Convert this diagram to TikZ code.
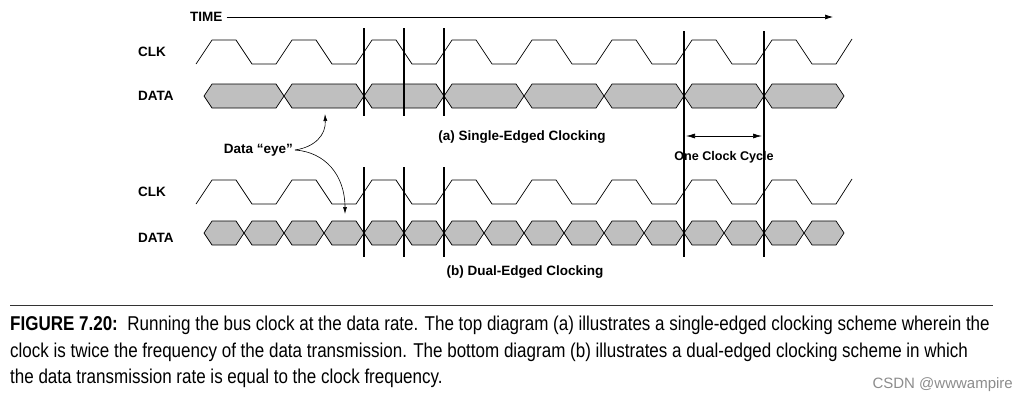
\documentclass[tikz,border=0pt]{standalone}
\usepackage{fontspec}
\setmainfont{Liberation Sans}
\newfontfamily\capfont[FakeStretch=0.85]{Liberation Sans}
\usetikzlibrary{arrows.meta}
\begin{document}
\begin{tikzpicture}[x=1pt,y=-1pt,
  lbl/.style={font=\bfseries\fontsize{13.5}{16}\selectfont,inner sep=0pt},
  wave/.style={line width=0.7pt},
  cell/.style={draw,fill=black!25,line width=0.7pt},
  vmark/.style={line width=1.6pt}]
\useasboundingbox (0,0) rectangle (1027,400);
% TIME
\node[lbl,anchor=west] (time) at (190,17) {TIME};
\coordinate (tend) at (833,17);
\draw[-{Latex[length=8pt,width=5pt]},line width=0.7pt] (time.east)++(4,0) -- (tend);
% labels
\node[lbl,anchor=west] (clka) at (138,52) {CLK};
\node[lbl,anchor=west] (dataa) at (138,96) {DATA};
\node[lbl,anchor=west] (clkb) at (138,192) {CLK};
\node[lbl,anchor=west] (datab) at (138,238) {DATA};
% clocks
\foreach \yh/\yl in {40/64,180/204}{
  \draw[wave] (196,\yl)
    \foreach \k in {0,...,7}{ -- ({212+80*\k},\yh) -- ({236+80*\k},\yh) -- ({252+80*\k},\yl) -- ({276+80*\k},\yl)}
    -- (852,\yh-1);
}
% data top
\foreach \k in {0,...,7}{
  \pgfmathsetmacro\a{204+80*\k}
  \draw[cell] (\a,96) -- (\a+8,84) -- (\a+72,84) -- (\a+80,96) -- (\a+72,108) -- (\a+8,108) -- cycle;
}
\foreach \k in {0,...,15}{
  \pgfmathsetmacro\a{204+40*\k}
  \draw[cell] (\a,233) -- (\a+8,221) -- (\a+32,221) -- (\a+40,233) -- (\a+32,245) -- (\a+8,245) -- cycle;
}
% vertical markers
\foreach \x in {364,404,444}{
  \draw[vmark] (\x,28) -- (\x,116);
  \draw[vmark] (\x,167) -- (\x,257);
}
\coordinate (m1t) at (684,31); \coordinate (m1b) at (684,257);
\coordinate (m2t) at (764,31); \coordinate (m2b) at (764,257);
\draw[vmark] (m1t) -- (m1b);
\draw[vmark] (m2t) -- (m2b);
\coordinate (ca) at (686,136); \coordinate (cb) at (762,136);
\draw[{Latex[length=9pt,width=5pt]}-{Latex[length=9pt,width=5pt]},line width=0.7pt] (ca) -- (cb);
\node[font=\bfseries\fontsize{12.6}{15}\selectfont,inner sep=0pt] (occ) at (724,157) {One Clock Cycle};
\node[lbl] (capa) at (522,137) {(a) Single-Edged Clocking};
\node[lbl] (capb) at (525,272) {(b) Dual-Edged Clocking};
\node[lbl,anchor=east] (eye) at (293,150) {Data “eye”};
\coordinate (eyea) at (325,114); \coordinate (eyeb) at (345,214);
\draw[-{Latex[length=7pt,width=4pt]},line width=0.6pt] (eye.east)++(2,0) .. controls (315,147) and (326,135) .. (eyea);
\draw[-{Latex[length=7pt,width=4pt]},line width=0.6pt] (eye.east)++(2,0) .. controls (325,152) and (345,175) .. (eyeb);
% separator and caption
\coordinate (s1) at (10,305); \coordinate (s2) at (993,305);
\draw[line width=0.8pt,black!80] (s1) -- (s2);
\node[anchor=west,inner sep=0pt,font=\capfont\fontsize{20}{24}\selectfont] (c1) at (10,325) {\textbf{FIGURE 7.20:}\ \ Running the bus clock at the data rate. The top diagram (a) illustrates a single-edged clocking scheme wherein the};
\node[anchor=west,inner sep=0pt,font=\capfont\fontsize{20}{24}\selectfont] (c2) at (10,352) {clock is twice the frequency of the data transmission. The bottom diagram (b) illustrates a dual-edged clocking scheme in which};
\node[anchor=west,inner sep=0pt,font=\capfont\fontsize{20}{24}\selectfont] (c3) at (10,378) {the data transmission rate is equal to the clock frequency.};
\node[anchor=east,inner sep=0pt,text=black!45,font=\fontsize{15}{17}\selectfont] (wm) at (1013,385) {CSDN @wwwampire};
\end{tikzpicture}
\end{document}
